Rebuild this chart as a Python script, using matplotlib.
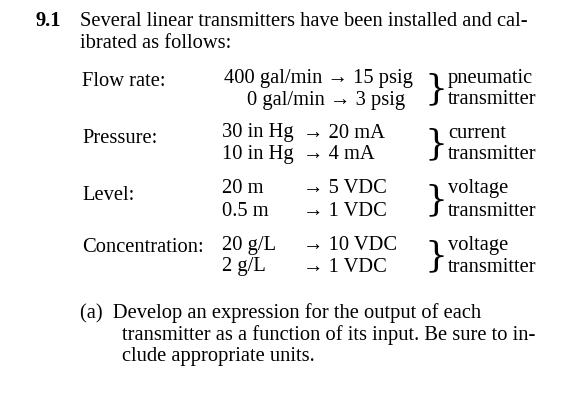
import matplotlib.pyplot as plt

plt.rcParams['font.family'] = ['Liberation Serif', 'DejaVu Serif']

labels = ["Flow rate:", "Pressure:", "Level:", "Concentration:"]
inputs = [("400 gal/min", "0 gal/min"), ("30 in Hg", "10 in Hg"),
          ("20 m", "0.5 m"), ("20 g/L", "2 g/L")]
outputs = [("15 psig", "3 psig"), ("20 mA", "4 mA"),
           ("5 VDC", "1 VDC"), ("10 VDC", "1 VDC")]
kinds = ["pneumatic", "current", "voltage", "voltage"]
row_tops = [78, 133, 189, 245]

W, H = 562, 400
fig = plt.figure(figsize=(W / 100, H / 100), dpi=100)
fs = 14.8


def put(x, y, s, **kw):
    kw.setdefault('fontsize', fs)
    fig.text(x / W, 1 - y / H, s, va='center', ha=kw.pop('ha', 'left'), **kw)


put(36, 21, "9.1", weight='bold')
put(80, 21, "Several linear transmitters have been installed and cal-")
put(80, 44, "ibrated as follows:")

for i, lab in enumerate(labels):
    y0 = row_tops[i]
    y1 = y0 + 22
    if i == 0:
        put(82, y0 + 4, lab)
        put(413, y0, f"{inputs[i][0]} \u2192 {outputs[i][0]}", ha='right')
        put(405, y1, f"{inputs[i][1]} \u2192 {outputs[i][1]}", ha='right')
    else:
        put(82, y0 + 6 if i < 3 else y0 + 2, lab)
        put(222, y0, inputs[i][0])
        put(222, y1, inputs[i][1])
        put(303, y0, f"\u2192 {outputs[i][0]}")
        put(303, y1, f"\u2192 {outputs[i][1]}")
    put(424, y0 + 11, "}", fontsize=26, family='DejaVu Serif', weight='light')
    put(448, y0, kinds[i])
    put(448, y1, "transmitter")

put(80, 313, "(a)  Develop an expression for the output of each")
put(122, 335, "transmitter as a function of its input. Be sure to in-")
put(122, 357, "clude appropriate units.")

fig.savefig("out.png", dpi=100, facecolor='white')
